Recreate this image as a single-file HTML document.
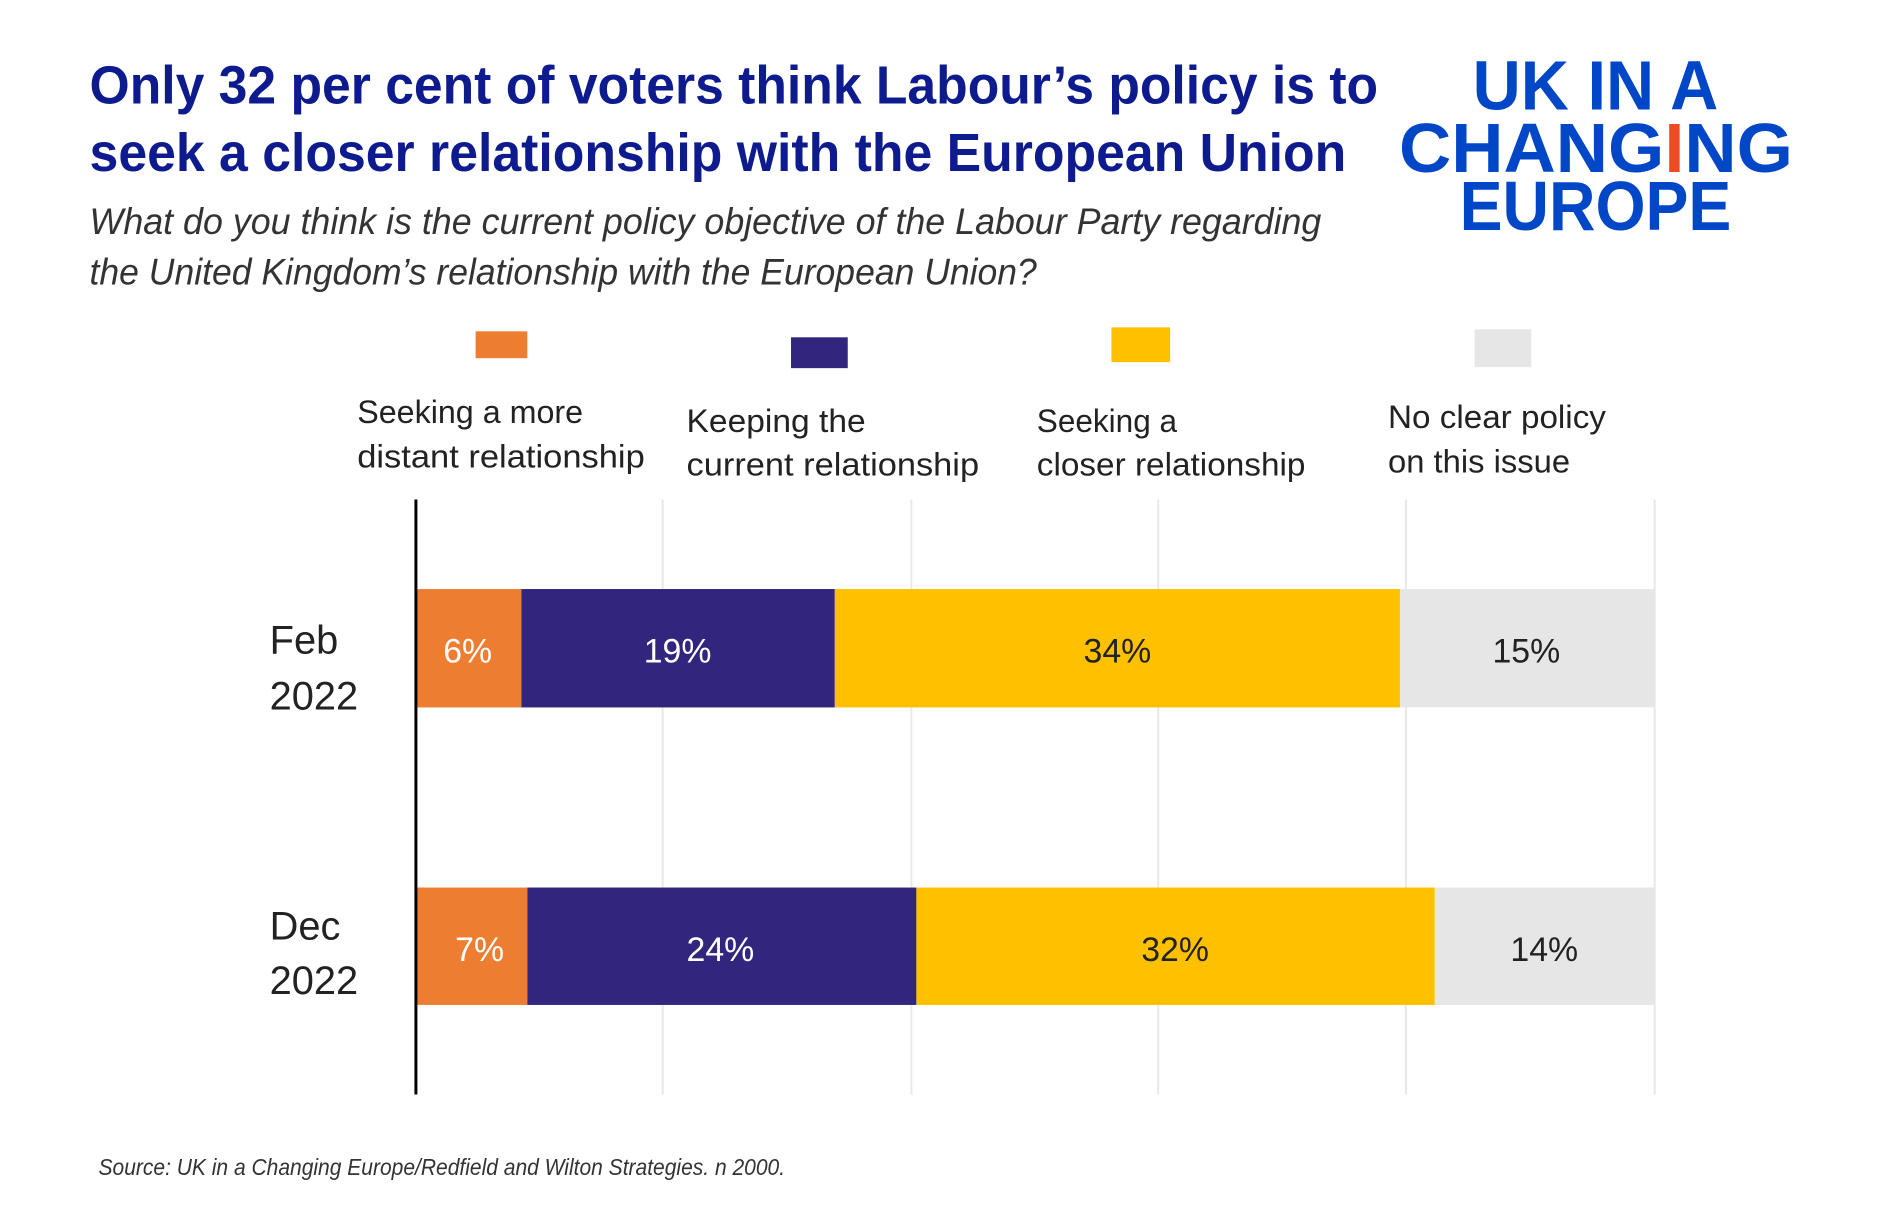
<!DOCTYPE html>
<html><head><meta charset="utf-8"><style>
html,body{margin:0;padding:0;background:#fff;}
svg{display:block;}
text{font-family:"Liberation Sans",sans-serif;}
</style></head><body>
<svg width="1880" height="1211" viewBox="0 0 1880 1211" xmlns="http://www.w3.org/2000/svg">
<rect width="1880" height="1211" fill="#fff"/>
<g transform="scale(0.995)">
<g fill="#0d1b8f" font-weight="bold" font-size="54">
<text x="90" y="104" textLength="1295" lengthAdjust="spacingAndGlyphs">Only 32 per cent of voters think Labour’s policy is to</text>
<text x="90" y="172" textLength="1263" lengthAdjust="spacingAndGlyphs">seek a closer relationship with the European Union</text>
</g>
<g fill="#333" font-style="italic" font-size="37">
<text x="90" y="235" textLength="1238" lengthAdjust="spacingAndGlyphs">What do you think is the current policy objective of the  Labour Party regarding</text>
<text x="90" y="286" textLength="952" lengthAdjust="spacingAndGlyphs">the United Kingdom’s relationship with the European Union?</text>
</g>
<g fill="#0047c8" font-size="70" font-weight="bold">
<text x="1480" y="110" textLength="247" lengthAdjust="spacingAndGlyphs">UK IN A</text>
<text x="1406" y="173" textLength="396" lengthAdjust="spacingAndGlyphs">CHANG<tspan fill="#f04a23">I</tspan>NG</text>
<text x="1467" y="231" textLength="273" lengthAdjust="spacingAndGlyphs">EUROPE</text>
</g>
<rect x="478" y="333" width="52" height="27" fill="#ed7d31"/>
<rect x="795" y="339" width="57" height="31" fill="#31257d"/>
<rect x="1117" y="329" width="59" height="35" fill="#ffc000"/>
<rect x="1482" y="331" width="57" height="38" fill="#e6e6e6"/>
<g fill="#222" font-size="33">
<text x="359" y="425" textLength="227" lengthAdjust="spacingAndGlyphs">Seeking a more</text>
<text x="359" y="470" textLength="289" lengthAdjust="spacingAndGlyphs">distant relationship</text>
<text x="690" y="434" textLength="180" lengthAdjust="spacingAndGlyphs">Keeping the</text>
<text x="690" y="478" textLength="294" lengthAdjust="spacingAndGlyphs">current relationship</text>
<text x="1042" y="434" textLength="141" lengthAdjust="spacingAndGlyphs">Seeking a</text>
<text x="1042" y="478" textLength="270" lengthAdjust="spacingAndGlyphs">closer relationship</text>
<text x="1395" y="430" textLength="219" lengthAdjust="spacingAndGlyphs">No clear policy</text>
<text x="1395" y="475" textLength="183" lengthAdjust="spacingAndGlyphs">on this issue</text>
</g>
<g stroke="#e8e8e8" stroke-width="2">
<line x1="666" y1="502" x2="666" y2="1100"/>
<line x1="916" y1="502" x2="916" y2="1100"/>
<line x1="1164" y1="502" x2="1164" y2="1100"/>
<line x1="1413" y1="502" x2="1413" y2="1100"/>
<line x1="1663" y1="502" x2="1663" y2="1100"/>
</g>
<rect x="418" y="592" width="106" height="119" fill="#ed7d31"/>
<rect x="524" y="592" width="315" height="119" fill="#31257d"/>
<rect x="839" y="592" width="568" height="119" fill="#ffc000"/>
<rect x="1407" y="592" width="256" height="119" fill="#e6e6e6"/>
<rect x="418" y="892" width="112" height="118" fill="#ed7d31"/>
<rect x="530" y="892" width="391" height="118" fill="#31257d"/>
<rect x="921" y="892" width="521" height="118" fill="#ffc000"/>
<rect x="1442" y="892" width="221" height="118" fill="#e6e6e6"/>
<line x1="418" y1="502" x2="418" y2="1100" stroke="#000" stroke-width="3"/>
<g font-size="34" text-anchor="middle">
<text x="470" y="666" fill="#fff">6%</text>
<text x="681" y="666" fill="#fff">19%</text>
<text x="1123" y="666" fill="#222">34%</text>
<text x="1534" y="666" fill="#222">15%</text>
<text x="482" y="966" fill="#fff">7%</text>
<text x="724" y="966" fill="#fff">24%</text>
<text x="1181" y="966" fill="#222">32%</text>
<text x="1552" y="966" fill="#222">14%</text>
</g>
<g font-size="40" fill="#222">
<text x="271" y="657">Feb</text>
<text x="271" y="713">2022</text>
<text x="271" y="944">Dec</text>
<text x="271" y="999">2022</text>
</g>
<text x="99" y="1181" font-size="23" font-style="italic" fill="#333" textLength="690" lengthAdjust="spacingAndGlyphs">Source: UK in a Changing Europe/Redfield and Wilton Strategies. n 2000.</text>
</g>
</svg>
</body></html>
